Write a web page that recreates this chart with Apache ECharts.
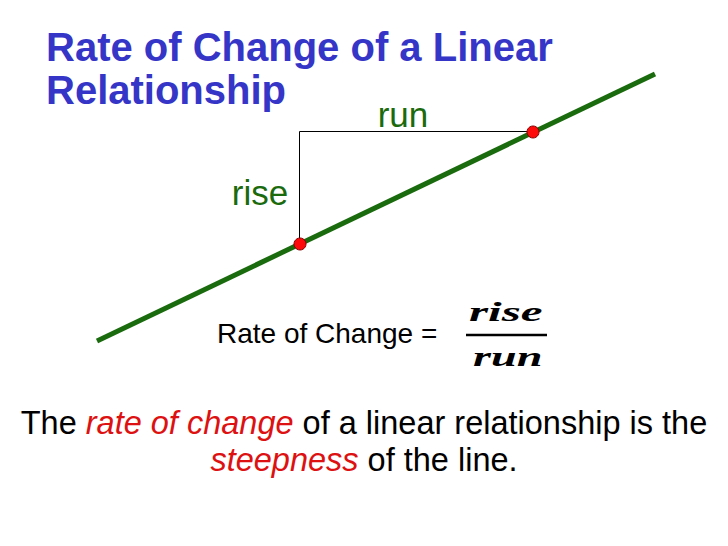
<!DOCTYPE html>
<html>
<head>
<meta charset="utf-8">
<script src="https://cdn.jsdelivr.net/npm/echarts@6/dist/echarts.min.js"></script>
<style>
html,body{margin:0;padding:0;background:#fff;}
#c{width:728px;height:546px;}
</style>
</head>
<body>
<div id="c"></div>
<script>
// Diagram data (in a 728 x 546 unit frame, y measured downward)
var lineX = [97, 655];
var lineY = [341, 74];
var pointX = [300, 533];
var pointY = [244, 132];
var cornerX = [299.5, 299.5, 533];
var cornerY = [244, 131.5, 131.5];
var labels = ['run', 'rise'];
var labelX = [403, 260];
var labelY = [114, 192];

function pairs(xs, ys) { return xs.map(function (x, i) { return [x, ys[i]]; }); }

var chart = echarts.init(document.getElementById('c'), null, { renderer: 'svg' });
var green = '#1a6a0e';
chart.setOption({
  animation: false,
  backgroundColor: '#ffffff',
  grid: { left: 0, right: 0, top: 0, bottom: 0 },
  xAxis: { type: 'value', min: 0, max: 728, show: false },
  yAxis: { type: 'value', min: 0, max: 546, inverse: true, show: false },
  title: {
    text: 'Rate of Change of a Linear\nRelationship',
    left: 41, top: 20,
    textStyle: { fontFamily: 'Liberation Sans', fontSize: 40, fontWeight: 'bold', color: '#3535c8', lineHeight: 43 }
  },
  series: [
    {
      type: 'line', data: pairs(lineX, lineY), symbol: 'none',
      lineStyle: { color: green, width: 5 }, z: 2
    },
    {
      type: 'line', data: pairs(cornerX, cornerY), symbol: 'none',
      lineStyle: { color: '#000', width: 1 }, z: 1
    },
    {
      type: 'scatter', data: pairs(pointX, pointY), symbolSize: 12,
      itemStyle: { color: '#ff0a0a', borderColor: '#8a0000', borderWidth: 1, opacity: 1 }, z: 3
    },
    {
      type: 'scatter', symbolSize: 0,
      itemStyle: { opacity: 1 },
      data: labels.map(function (t, i) { return { value: [labelX[i], labelY[i]], name: t }; }),
      label: {
        show: true, position: 'inside', formatter: '{b}',
        fontFamily: 'Liberation Sans', fontSize: 35, color: green
      }
    }
  ],
  graphic: [
    {
      type: 'text', left: 217, top: 319,
      style: { text: 'Rate of Change =', fontFamily: 'Liberation Sans', fontSize: 28, fill: '#000' }
    },
    {
      type: 'text', x: 469, y: 312, scaleX: 1.75,
      style: { text: 'rise', x: 0, y: 0, verticalAlign: 'middle', fontFamily: 'Liberation Serif', fontStyle: 'italic', fontWeight: 'bold', fontSize: 28, fill: '#000' }
    },
    {
      type: 'line', shape: { x1: 466, y1: 335, x2: 547, y2: 335 },
      style: { stroke: '#000', lineWidth: 2.5 }
    },
    {
      type: 'text', x: 473, y: 356, scaleX: 1.65,
      style: { text: 'run', x: 0, y: 0, verticalAlign: 'middle', fontFamily: 'Liberation Serif', fontStyle: 'italic', fontWeight: 'bold', fontSize: 28, fill: '#000' }
    },
    {
      type: 'text', left: 'center', top: 406,
      style: {
        text: '{n|The }{r|rate of change}{n| of a linear relationship is the}',
        rich: {
          n: { fontFamily: 'Liberation Sans', fontSize: 32.5, fill: '#000' },
          r: { fontFamily: 'Liberation Sans', fontSize: 32.5, fontStyle: 'italic', fill: '#dd1111' }
        }
      }
    },
    {
      type: 'text', left: 'center', top: 443,
      style: {
        text: '{r|steepness}{n| of the line.}',
        rich: {
          n: { fontFamily: 'Liberation Sans', fontSize: 32.5, fill: '#000' },
          r: { fontFamily: 'Liberation Sans', fontSize: 32.5, fontStyle: 'italic', fill: '#dd1111' }
        }
      }
    }
  ]
});
</script>
</body>
</html>
